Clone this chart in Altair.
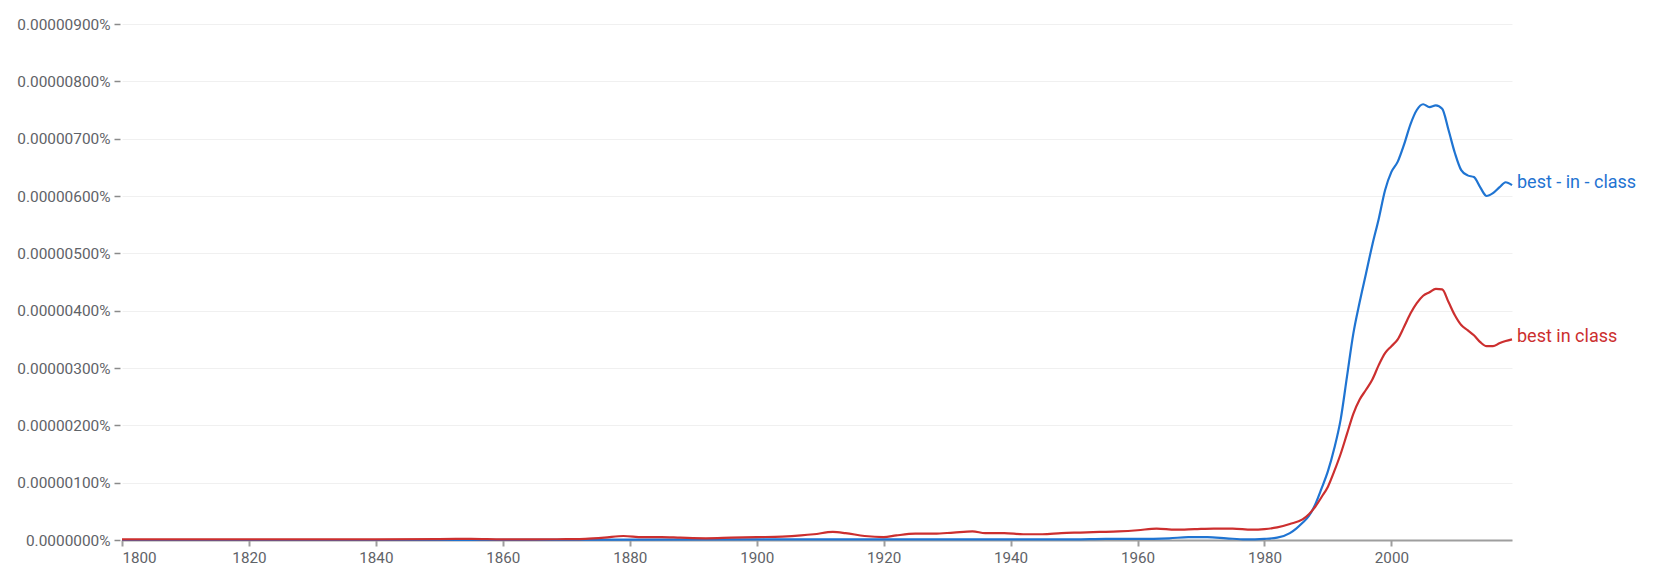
import altair as alt
import pandas as pd

# values in units of 0.000001 %
red_years = [1800, 1810, 1820, 1830, 1840, 1850, 1855, 1860, 1865, 1870, 1873, 1876, 1879, 1882, 1885,
             1888, 1892, 1896, 1900, 1904, 1907, 1909, 1912, 1914, 1917, 1920, 1922, 1925, 1928, 1931,
             1934, 1936, 1939, 1942, 1945, 1948, 1951, 1954, 1957, 1960, 1963, 1966, 1969, 1972, 1975,
             1978, 1980, 1982, 1984, 1986, 1987, 1988, 1989, 1990, 1991, 1992, 1993, 1994, 1995, 1996,
             1997, 1998, 1999, 2000, 2001, 2002, 2003, 2004, 2005, 2006, 2007, 2008, 2009, 2010, 2011,
             2012, 2013, 2014, 2015, 2016, 2017, 2018, 2019]
red_vals = [0.01, 0.01, 0.01, 0.01, 0.01, 0.015, 0.02, 0.01, 0.01, 0.015, 0.02, 0.04, 0.07, 0.05, 0.05,
            0.04, 0.03, 0.04, 0.05, 0.06, 0.08, 0.10, 0.14, 0.12, 0.07, 0.05, 0.08, 0.11, 0.11, 0.13,
            0.15, 0.12, 0.12, 0.10, 0.10, 0.12, 0.13, 0.14, 0.15, 0.17, 0.20, 0.18, 0.19, 0.20, 0.20,
            0.18, 0.19, 0.22, 0.28, 0.36, 0.45, 0.58, 0.75, 0.93, 1.20, 1.50, 1.85, 2.20, 2.45, 2.62,
            2.80, 3.05, 3.26, 3.38, 3.50, 3.72, 3.95, 4.13, 4.26, 4.32, 4.38, 4.37, 4.15, 3.92, 3.75,
            3.66, 3.57, 3.45, 3.38, 3.38, 3.43, 3.47, 3.50]

blue_years = [1800, 1850, 1900, 1950, 1955, 1960, 1965, 1968, 1971, 1974, 1977, 1980, 1982, 1984, 1985,
              1986, 1987, 1988, 1989, 1990, 1991, 1992, 1993, 1994, 1995, 1996, 1997, 1998, 1999, 2000,
              2001, 2002, 2003, 2004, 2005, 2006, 2007, 2008, 2009, 2010, 2011, 2012, 2013, 2014, 2015,
              2016, 2017, 2018, 2019]
blue_vals = [0.0, 0.0, 0.01, 0.01, 0.02, 0.02, 0.03, 0.05, 0.05, 0.03, 0.01, 0.02, 0.04, 0.12, 0.20,
             0.30, 0.42, 0.62, 0.90, 1.20, 1.60, 2.10, 2.85, 3.60, 4.15, 4.65, 5.15, 5.60, 6.10, 6.42,
             6.60, 6.90, 7.25, 7.50, 7.60, 7.55, 7.58, 7.52, 7.15, 6.75, 6.45, 6.36, 6.33, 6.15, 6.00,
             6.05, 6.15, 6.24, 6.19]

series_names = ["best - in - class", "best in class"]
series_colors = ["#1f74d2", "#cc2f2f"]
x_ticks = [1800, 1820, 1840, 1860, 1880, 1900, 1920, 1940, 1960, 1980, 2000]

rows = []
for y, v in zip(blue_years, blue_vals):
    rows.append({"year": y, "v": v, "series": series_names[0]})
for y, v in zip(red_years, red_vals):
    rows.append({"year": y, "v": v, "series": series_names[1]})
df = pd.DataFrame(rows)
last = pd.DataFrame([
    {"year": blue_years[-1], "v": blue_vals[-1], "series": series_names[0]},
    {"year": red_years[-1], "v": red_vals[-1], "series": series_names[1]},
])

color = alt.Color("series:N", scale=alt.Scale(domain=series_names, range=series_colors), legend=None)
x = alt.X("year:Q", scale=alt.Scale(domain=[1800, 2019], nice=False, zero=False),
          axis=alt.Axis(values=x_ticks, format="d", title=None, grid=False,
                        domainColor="#9e9e9e", domainWidth=2, tickColor="#9e9e9e", tickWidth=2,
                        tickSize=6, labelPadding=4, labelFontSize=15.2, labelColor="#5f6368",
                        labelFont="Roboto"))
y = alt.Y("pct:Q", scale=alt.Scale(domain=[0, 0.000009], nice=False),
          axis=alt.Axis(values=[i * 0.000001 for i in range(10)], title=None, domain=False,
                        gridColor="#f0f0f0", gridWidth=1, tickColor="#8a8a8a", tickWidth=1.5,
                        tickSize=6, offset=2, labelPadding=4, labelFontSize=15.4,
                        labelColor="#5f6368", labelFont="Roboto",
                        labelExpr="datum.value == 0 ? '0.0000000%' : format(datum.value, '.8f') + '%'"))

lines = alt.Chart(df).transform_calculate(pct="datum.v * 0.000001").mark_line(
    strokeWidth=2.2, interpolate="monotone").encode(x=x, y=y, color=color, detail="series:N")
labels = alt.Chart(last).transform_calculate(pct="datum.v * 0.000001").mark_text(
    align="left", baseline="middle", dx=5, dy=-2, fontSize=18, font="Roboto").encode(
    x=x, y=y, text="series:N", color=color)

chart = alt.layer(lines, labels, view=alt.ViewBackground(stroke="transparent", strokeWidth=0)).properties(
    width=1390, height=516,
    autosize=alt.AutoSizeParams(type="none"),
    padding={"left": 114, "top": 16, "right": 133, "bottom": 30},
).configure_view(stroke="transparent", strokeWidth=0).configure_axisX(grid=False).configure(background="white")

chart.save("out.html", embed_options={"renderer": "svg", "actions": False})
